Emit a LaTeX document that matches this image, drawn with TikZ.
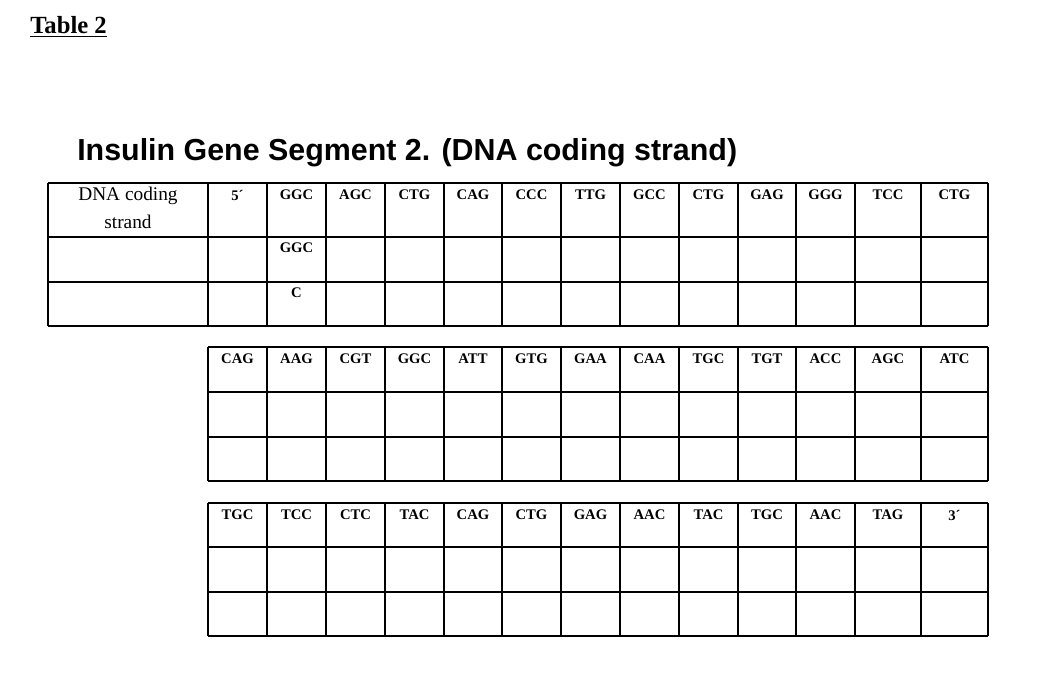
\documentclass[tikz,border=0pt]{standalone}
\usepackage{fontspec}
\setmainfont{Liberation Serif}
\newfontfamily\hd{Liberation Sans}
\begin{document}
\begin{tikzpicture}[x=0.75pt,y=-0.75pt,
  cell/.style={font=\fontsize{11}{12}\selectfont\bfseries,anchor=north,inner sep=0pt},
  grid/.style={line width=1.1pt}]
\useasboundingbox (0,0) rectangle (1053,692);
\node[anchor=base west,inner sep=0pt,font=\fontsize{18.5}{20}\selectfont\bfseries] (t) at (30,34) {\underline{Table 2}};
\node[anchor=base west,inner sep=0pt,font=\hd\fontsize{22.8}{26}\selectfont\bfseries] (h) at (77,160) {Insulin Gene Segment 2. (DNA coding strand)};
% table 1
\draw[grid] (48,183) -- (988,183) (48,237) -- (988,237) (48,282) -- (988,282) (48,326) -- (988,326);
\foreach \x in {48,208,267,326,385,444,502,561,620,679,738,796,855,921,988} \draw[grid] (\x,183) -- (\x,326);
% table 2,3
\foreach \y in {347,392,437,481,503,547,592,636} \draw[grid] (208,\y) -- (988,\y);
\foreach \x in {208,267,326,385,444,502,561,620,679,738,796,855,921,988} {\draw[grid] (\x,347) -- (\x,481); \draw[grid] (\x,503) -- (\x,636);}
\node[anchor=north,align=center,inner sep=0pt,font=\fontsize{14.5}{21}\selectfont] (lab) at (128,187) {DNA coding\\strand};
\def\rowA{5\textasciiacute,GGC,AGC,CTG,CAG,CCC,TTG,GCC,CTG,GAG,GGG,TCC,CTG}
\def\rowB{CAG,AAG,CGT,GGC,ATT,GTG,GAA,CAA,TGC,TGT,ACC,AGC,ATC}
\def\rowC{TGC,TCC,CTC,TAC,CAG,CTG,GAG,AAC,TAC,TGC,AAC,TAG,3\textasciiacute}
\def\cx{237.5,296.5,355.5,414.5,473,531.5,590.5,649.5,708.5,767,825.5,888,954.5}
\foreach \t [count=\i] in \rowA {\pgfmathparse{{\cx}[\i-1]}\node[cell] (a\i) at (\pgfmathresult,190) {\t};}
\foreach \t [count=\i] in \rowB {\pgfmathparse{{\cx}[\i-1]}\node[cell] (b\i) at (\pgfmathresult,354) {\t};}
\foreach \t [count=\i] in \rowC {\pgfmathparse{{\cx}[\i-1]}\node[cell] (c\i) at (\pgfmathresult,510) {\t};}
\node[cell] (g2) at (296.5,243) {GGC};
\node[cell] (g3) at (296.5,288) {C};
\end{tikzpicture}
\end{document}
